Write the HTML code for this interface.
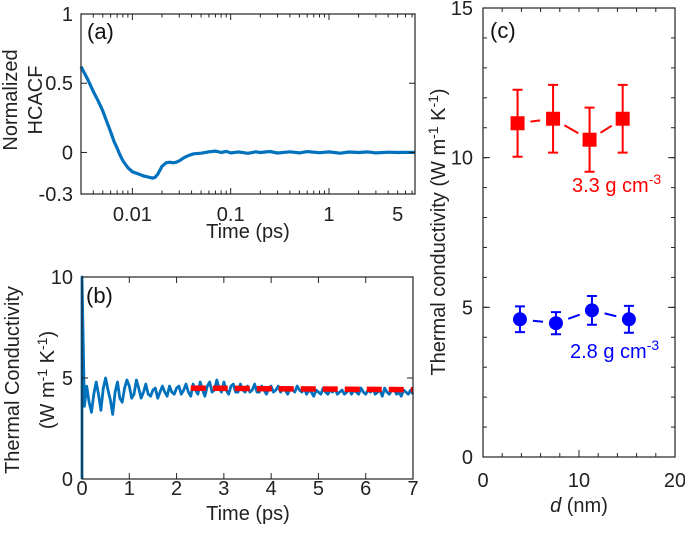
<!DOCTYPE html>
<html><head><meta charset="utf-8"><style>
body{margin:0;background:#fff}
svg{display:block;font-family:"Liberation Sans",Arial,sans-serif}
</style></head><body>
<svg id="fig" width="685" height="537" viewBox="0 0 685 537"></svg>
<script>
// ---- Panel (a) data ----
const hcTime=[0.003,0.0035,0.004,0.0045,0.005,0.0055,0.006,0.0065,0.007,0.0075,0.008,0.009,0.01,0.011,0.012,0.013,0.014,0.015,0.016,0.017,0.018,0.019,0.02,0.022,0.024,0.026,0.028,0.03,0.034,0.038,0.042,0.05,0.06,0.07,0.08,0.09,0.1,0.12,0.15,0.18,0.2,0.25,0.3,0.4,0.5,0.6,0.8,1,1.3,1.6,2,2.5,3,4,5,6,7.5];
const hcValue=[0.62,0.53,0.44,0.37,0.3,0.22,0.15,0.08,0.03,-0.02,-0.06,-0.11,-0.14,-0.15,-0.16,-0.17,-0.175,-0.18,-0.185,-0.18,-0.16,-0.13,-0.1,-0.075,-0.07,-0.075,-0.07,-0.06,-0.035,-0.02,-0.01,-0.005,0.005,0.01,0.0,0.008,-0.003,0.004,-0.006,0.005,0.0,0.007,-0.004,0.005,-0.003,0.006,-0.002,0.004,-0.005,0.003,0.0,0.004,-0.003,0.002,0.0,0.001,0.0];
const aYTicks=[1,0.5,0,-0.3];const aYTickLabels=["1","0.5","0","-0.3"];
const aXTicks=[0.01,0.1,1,5];const aXTickLabels=["0.01","0.1","1","5"];
// ---- Panel (b) data ----
const kStep=0.05;
const kValue=[10,3.6,4.6,3.8,3.3,4.2,4.8,4.2,3.4,4.5,5.0,4.4,3.9,3.2,4.3,4.8,4.0,3.8,4.5,4.9,4.6,4.0,4.2,4.9,4.5,4.0,4.3,4.7,4.2,4.1,4.4,4.5,4.0,4.3,4.6,4.3,4.1,4.6,4.3,4.2,4.5,4.6,4.2,4.4,4.7,4.3,4.1,4.7,4.4,4.2,4.8,4.4,4.1,4.6,4.8,4.3,4.4,4.9,4.5,4.3,4.8,4.4,4.2,4.6,4.7,4.3,4.3,4.7,4.4,4.3,4.6,4.3,4.4,4.7,4.3,4.3,4.6,4.4,4.2,4.5,4.6,4.3,4.4,4.6,4.3,4.5,4.4,4.2,4.5,4.4,4.3,4.6,4.4,4.3,4.5,4.2,4.4,4.3,4.1,4.4,4.3,4.2,4.5,4.3,4.2,4.4,4.3,4.5,4.2,4.3,4.4,4.2,4.3,4.5,4.2,4.4,4.3,4.2,4.5,4.3,4.2,4.4,4.3,4.5,4.2,4.3,4.4,4.1,4.5,4.3,4.2,4.4,4.5,4.2,4.3,4.1,4.4,4.3,4.2,4.4,4.2];
const fitTime=[2.3,7];const fitValue=[4.5,4.42];
const bYTicks=[0,5,10];const bXTicks=[0,1,2,3,4,5,6,7];
// ---- Panel (c) data ----
const redD=[3.6,7.3,11.1,14.55];const redK=[11.15,11.3,10.6,11.3];const redErr=[1.12,1.13,1.07,1.13];
const blueD=[3.85,7.6,11.35,15.2];const blueK=[4.6,4.47,4.9,4.6];const blueErr=[0.43,0.37,0.48,0.45];
const cYTicks=[0,5,10,15];const cXTicks=[0,10,20];

const NS="http://www.w3.org/2000/svg";const svg=document.getElementById('fig');
function el(tag,attrs,parent,text){const e=document.createElementNS(NS,tag);for(const k in attrs)e.setAttribute(k,attrs[k]);if(text!==undefined)e.textContent=text;(parent||svg).appendChild(e);return e;}
const BLUE="#0072bd";const FS=20;

// ===== Panel a =====
const ga=el('g',{});
const aL=81,aR=415,aT=14,aB=194;
const axA=t=>aL+(Math.log10(t)-Math.log10(0.003))/(Math.log10(7.5)-Math.log10(0.003))*(aR-aL);
const ayA=v=>aT+(1-v)/(1.3)*(aB-aT);
let d=hcTime.map((t,i)=>(i?'L':'M')+axA(t).toFixed(1)+' '+ayA(hcValue[i]).toFixed(1)).join(' ');
let p=el('path',{d:d,fill:'none',stroke:BLUE,'stroke-width':3.2,'stroke-linejoin':'round'},ga);
for(let e=-3;e<=0;e++)for(let m=1;m<10;m++){const t=m*Math.pow(10,e);if(t<0.003||t>7.5)continue;const x=axA(t);const L=m==1?6:3.5;el('line',{x1:x,x2:x,y1:aB,y2:aB-L,stroke:'#222'},ga);el('line',{x1:x,x2:x,y1:aT,y2:aT+L,stroke:'#222'},ga);}
aYTicks.forEach((v,i)=>{const y=ayA(v);el('line',{x1:aL,x2:aL+6,y1:y,y2:y,stroke:'#222'},ga);el('line',{x1:aR,x2:aR-6,y1:y,y2:y,stroke:'#222'},ga);let t=el('text',{x:aL-8,y:y+7,'text-anchor':'end','font-size':FS,fill:'#222'},ga,aYTickLabels[i]);});
aXTicks.forEach((v,i)=>{let t=el('text',{x:axA(v),y:221,'text-anchor':'middle','font-size':FS,fill:'#222'},ga,aXTickLabels[i]);});
el('rect',{x:aL,y:aT,width:aR-aL,height:aB-aT,fill:'none',stroke:'#222','stroke-width':1.2},ga);
let t;t=el('text',{x:87,y:39,'font-size':22,fill:'#111'},ga,'(a)');
t=el('text',{x:248,y:238,'text-anchor':'middle','font-size':FS,fill:'#222'},ga,'Time (ps)');
t=el('text',{transform:'translate(17,100) rotate(-90)','text-anchor':'middle','font-size':FS,fill:'#222'},ga,'Normalized');
t=el('text',{transform:'translate(42,100) rotate(-90)','text-anchor':'middle','font-size':FS,fill:'#222'},ga,'HCACF');

// ===== Panel b =====
const gb=el('g',{});
const bL=82,bR=413,bT=277,bB=479;
const bx=v=>bL+v/7*(bR-bL);const by=v=>bB-v/10*(bB-bT);
d='M'+bx(0)+' '+by(0)+' '+kValue.map((v,i)=>'L'+bx(i*kStep).toFixed(1)+' '+by(v).toFixed(1)).join(' ');
p=el('path',{d:d,fill:'none',stroke:BLUE,'stroke-width':2.8,'stroke-linejoin':'round'},gb);
p=el('line',{x1:bx(fitTime[0]),y1:by(fitValue[0]),x2:bx(fitTime[1]),y2:by(fitValue[1]),stroke:'#ff0000','stroke-width':5.5,'stroke-dasharray':'15 7'},gb);
bYTicks.forEach(v=>{const y=by(v);el('line',{x1:bL,x2:bL+6,y1:y,y2:y,stroke:'#222'},gb);el('line',{x1:bR,x2:bR-6,y1:y,y2:y,stroke:'#222'},gb);t=el('text',{x:bL-9,y:y+7,'text-anchor':'end','font-size':FS,fill:'#222'},gb,String(v));});
bXTicks.forEach(v=>{const x=bx(v);el('line',{x1:x,x2:x,y1:bB,y2:bB-6,stroke:'#222'},gb);el('line',{x1:x,x2:x,y1:bT,y2:bT+6,stroke:'#222'},gb);t=el('text',{x:x,y:495,'text-anchor':'middle','font-size':FS,fill:'#222'},gb,String(v));});
el('rect',{x:bL,y:bT,width:bR-bL,height:bB-bT,fill:'none',stroke:'#222','stroke-width':1.2},gb);
t=el('text',{x:86,y:303,'font-size':22,fill:'#111'},gb,'(b)');
t=el('text',{x:248,y:520,'text-anchor':'middle','font-size':FS,fill:'#222'},gb,'Time (ps)');
t=el('text',{transform:'translate(19,380) rotate(-90)','text-anchor':'middle','font-size':FS,fill:'#222'},gb,'Thermal Conductivity');
t=el('text',{transform:'translate(54,380) rotate(-90)','text-anchor':'middle','font-size':FS,fill:'#222'},gb);t.innerHTML='(W m<tspan dy="-7" font-size="14">-1</tspan><tspan dy="7"> K</tspan><tspan dy="-7" font-size="14">-1</tspan><tspan dy="7">)</tspan>';

// ===== Panel c =====
const gc=el('g',{});
const cL=483,cR=675,cT=8,cB=457;
const cx=v=>cL+v/20*(cR-cL);const cy=v=>cB-v/15*(cB-cT);
for(let v=1;v<15;v++){const y=cy(v);el('line',{x1:cL,x2:cL+4,y1:y,y2:y,stroke:'#222'},gc);el('line',{x1:cR,x2:cR-4,y1:y,y2:y,stroke:'#222'},gc);}
for(let v=2;v<20;v+=2){const x=cx(v);el('line',{x1:x,x2:x,y1:cB,y2:cB-4,stroke:'#222'},gc);el('line',{x1:x,x2:x,y1:cT,y2:cT+4,stroke:'#222'},gc);}
cYTicks.forEach(v=>{const y=cy(v);el('line',{x1:cL,x2:cL+7,y1:y,y2:y,stroke:'#222'},gc);el('line',{x1:cR,x2:cR-7,y1:y,y2:y,stroke:'#222'},gc);t=el('text',{x:cL-10,y:y+7,'text-anchor':'end','font-size':FS,fill:'#222'},gc,String(v));});
cXTicks.forEach(v=>{const x=cx(v);el('line',{x1:x,x2:x,y1:cB,y2:cB-7,stroke:'#222'},gc);t=el('text',{x:x,y:487,'text-anchor':'middle','font-size':FS,fill:'#222'},gc,String(v));});
el('rect',{x:cL,y:cT,width:cR-cL,height:cB-cT,fill:'none',stroke:'#222','stroke-width':1.2},gc);
function series(xs,ys,es,color,shape,name){
  for(let i=0;i<xs.length-1;i++){const x1=cx(xs[i]),y1=cy(ys[i]),x2=cx(xs[i+1]),y2=cy(ys[i+1]);const dx=x2-x1,dy=y2-y1,L=Math.hypot(dx,dy),g=13;
    const s=el('line',{x1:x1+dx*g/L,y1:y1+dy*g/L,x2:x2-dx*g/L,y2:y2-dy*g/L,stroke:color,'stroke-width':2},gc);}
  xs.forEach((v,i)=>{const x=cx(v),y=cy(ys[i]),yt=cy(ys[i]+es[i]),yb=cy(ys[i]-es[i]);
    const eb=el('path',{d:`M${x} ${yt}V${yb}M${x-5} ${yt}H${x+5}M${x-5} ${yb}H${x+5}`,stroke:color,'stroke-width':2,fill:'none'},gc);
    let m;if(shape==='sq')m=el('rect',{x:x-7,y:y-7,width:14,height:14,fill:color},gc);else m=el('circle',{cx:x,cy:y,r:7,fill:color},gc);
    });
}
series(redD,redK,redErr,'#ff0000','sq','red-3p3');
series(blueD,blueK,blueErr,'#0000ff','ci','blue-2p8');
t=el('text',{x:572,y:192,'font-size':FS,fill:'#ff0000'},gc);t.innerHTML='3.3 g cm<tspan dy="-8" font-size="14">-3</tspan>';
t=el('text',{x:570,y:358,'font-size':FS,fill:'#0000ff'},gc);t.innerHTML='2.8 g cm<tspan dy="-8" font-size="14">-3</tspan>';
t=el('text',{x:490,y:38,'font-size':22,fill:'#111'},gc,'(c)');
t=el('text',{x:579,y:512,'text-anchor':'middle','font-size':FS,fill:'#222'},gc);t.innerHTML='<tspan font-style="italic">d</tspan> (nm)';
t=el('text',{transform:'translate(445,232) rotate(-90)','text-anchor':'middle','font-size':FS,fill:'#222'},gc);t.innerHTML='Thermal conductivity (W m<tspan dy="-7" font-size="14">-1</tspan><tspan dy="7"> K</tspan><tspan dy="-7" font-size="14">-1</tspan><tspan dy="7">)</tspan>';
</script>
</body></html>
